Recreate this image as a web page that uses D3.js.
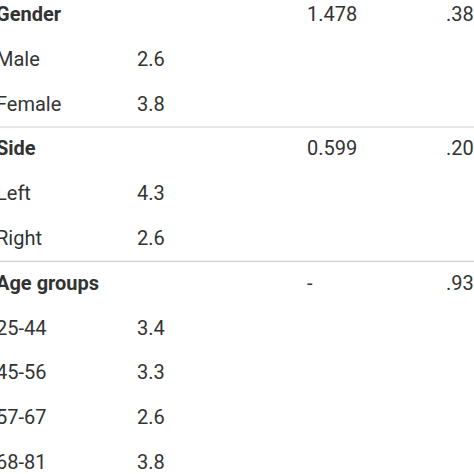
<!DOCTYPE html>
<html><head><meta charset="utf-8">
<script src="https://cdn.jsdelivr.net/npm/d3@7"></script>
<style>body{margin:0;background:#fff;overflow:hidden}</style>
</head><body><div id="main"></div>
<script>
// table rows
const labels = ["Gender","Male","Female","Side","Left","Right","Age groups","25-44","45-56","57-67","68-81"];
const isHeader = [true,false,false,true,false,false,true,false,false,false,false];
const means = ["","2.6","3.8","","4.3","2.6","","3.4","3.3","2.6","3.8"];
const stats = ["1.478","","","0.599","","","-","","","",""];
const pvals = [".384","","",".206","","",".934","","","",""];
const separators = [2.5, 5.5];

const W = 474, H = 474;
const svg = d3.select("#main").append("svg").attr("width", W).attr("height", H);

const y = d3.scaleLinear().domain([0, 10]).range([14, 462]);

svg.selectAll("line.sep").data(separators).enter().append("line")
  .attr("x1", 0).attr("x2", W)
  .attr("y1", d => y(d) + 1).attr("y2", d => y(d) + 1)
  .attr("stroke", "#d0d0d0").attr("stroke-width", 1.2);

const cols = [
  {vals: labels, x: -4},
  {vals: means, x: 137},
  {vals: stats, x: 307},
  {vals: pvals, x: 446}
];
cols.forEach((c, ci) => {
  svg.selectAll(null).data(c.vals).enter().append("text")
    .attr("x", c.x).attr("y", (d, i) => y(i))
    .attr("dy", "0.35em")
    .attr("font-family", "Roboto, sans-serif").attr("font-size", 20)
    .attr("font-weight", (d, i) => ci === 0 && isHeader[i] ? "bold" : "normal")
    .attr("fill", "#333")
    .text(d => d);
});
</script></body></html>
